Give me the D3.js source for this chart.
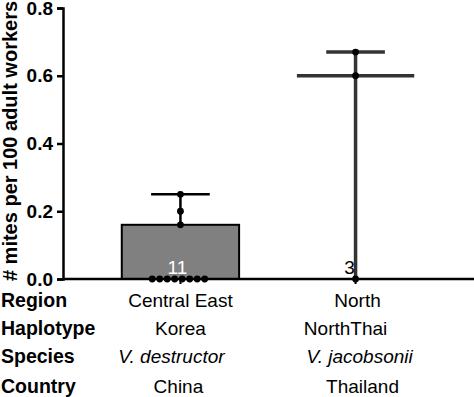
<!DOCTYPE html>
<html>
<head>
<meta charset="utf-8">
<script src="https://cdn.jsdelivr.net/npm/d3@7"></script>
<style>
  body { margin: 0; background: #fff; }
  text { font-family: "Liberation Sans", Arial, sans-serif; }
</style>
</head>
<body>
<div id="chart"></div>
<script>
// data
var regions = ["Central East", "North"];
var haplotypes = ["Korea", "NorthThai"];
var species = ["V. destructor", "V. jacobsonii"];
var countries = ["China", "Thailand"];
var barValues = [0.16, 0.6];
var errorTops = [0.25, 0.67];
var counts = [11, 3];
var pointsCentral = [0.25, 0.2, 0.16, 0, 0, 0, 0, 0, 0, 0, 0];
var pointsNorth = [0.67, 0.6, 0];
var yTicks = [0, 0.2, 0.4, 0.6, 0.8];
var rowLabels = ["Region", "Haplotype", "Species", "Country"];

var svgWidth = 474;
var svgHeight = 397;
var margin = { top: 8, right: 0, bottom: 118, left: 63 };

var svg = d3.select("#chart")
  .append("svg")
  .attr("width", svgWidth)
  .attr("height", svgHeight);

var y = d3.scaleLinear()
  .domain([0, 0.8])
  .range([svgHeight - margin.bottom, margin.top]);

var x = d3.scaleBand()
  .domain(regions)
  .range([92, 444])
  .paddingInner(0.33)
  .paddingOuter(0.17);

var barColors = ["#808080", "#ffffff"];
var lineColors = ["#000000", "#333333"];

// bars
svg.selectAll("rect.bar")
  .data(regions)
  .enter()
  .append("rect")
  .attr("class", "bar")
  .attr("x", d => x(d))
  .attr("width", x.bandwidth())
  .attr("y", (d, i) => y(barValues[i]))
  .attr("height", (d, i) => y(0) - y(barValues[i]))
  .attr("fill", (d, i) => barColors[i])
  .attr("stroke", (d, i) => i == 0 ? "#000" : "none")
  .attr("stroke-width", 2);

// North bar only shows its top line
svg.append("line")
  .attr("x1", x(regions[1]))
  .attr("x2", x(regions[1]) + x.bandwidth())
  .attr("y1", y(barValues[1]))
  .attr("y2", y(barValues[1]))
  .attr("stroke", lineColors[1])
  .attr("stroke-width", 3.5);

// error bars
regions.forEach(function(r, i) {
  var cx = x(r) + x.bandwidth() / 2;
  var capHalf = x.bandwidth() / 4;
  var w = i == 0 ? 2.5 : 3.5;
  svg.append("line")
    .attr("x1", cx).attr("x2", cx)
    .attr("y1", y(i == 0 ? barValues[i] : 0)).attr("y2", y(errorTops[i]))
    .attr("stroke", lineColors[i]).attr("stroke-width", w);
  svg.append("line")
    .attr("x1", cx - capHalf).attr("x2", cx + capHalf)
    .attr("y1", y(errorTops[i])).attr("y2", y(errorTops[i]))
    .attr("stroke", lineColors[i]).attr("stroke-width", w);
});

// axes
var yAxis = d3.axisLeft(y)
  .tickValues(yTicks)
  .tickFormat(d3.format(".1f"))
  .tickSize(6)
  .tickPadding(4);

var yg = svg.append("g")
  .attr("transform", "translate(" + margin.left + ",0)")
  .call(yAxis);
yg.select(".domain").attr("stroke-width", 2.5);
yg.selectAll(".tick line").attr("stroke-width", 2.5);
yg.selectAll(".tick text")
  .style("font-size", "19px")
  .style("font-weight", "bold")
  .attr("fill", "#000");

svg.append("line")
  .attr("x1", margin.left).attr("x2", svgWidth)
  .attr("y1", y(0)).attr("y2", y(0))
  .attr("stroke", "#000").attr("stroke-width", 2.5);

regions.forEach(function(r) {
  var cx = x(r) + x.bandwidth() / 2;
  svg.append("line")
    .attr("x1", cx).attr("x2", cx)
    .attr("y1", y(0)).attr("y2", y(0) + 5)
    .attr("stroke", "#000").attr("stroke-width", 2);
});

// points
function drawPoints(vals, i) {
  var cx = x(regions[i]) + x.bandwidth() / 2;
  var zeros = vals.filter(v => v == 0).length;
  var k = 0;
  vals.forEach(function(v) {
    var px = cx;
    if (v == 0 && zeros > 1) {
      px = cx - 2 + (k - (zeros - 1) / 2) * 7.5;
      k++;
    }
    svg.append("circle")
      .attr("cx", px)
      .attr("cy", y(v))
      .attr("r", 3.4)
      .attr("fill", "#000");
  });
}
drawPoints(pointsCentral, 0);
drawPoints(pointsNorth, 1);

// counts
svg.selectAll("text.count")
  .data(counts)
  .enter()
  .append("text")
  .attr("class", "count")
  .attr("x", (d, i) => x(regions[i]) + x.bandwidth() / 2 - (i == 0 ? 3 : 6))
  .attr("y", y(0) - 5)
  .attr("text-anchor", "middle")
  .style("font-size", "19px")
  .attr("fill", (d, i) => i == 0 ? "#fff" : "#000")
  .text(d => d);

// y title
svg.append("text")
  .attr("transform", "translate(17,141) rotate(-90)")
  .attr("text-anchor", "middle")
  .style("font-size", "20px")
  .style("font-weight", "bold")
  .text("# mites per 100 adult workers");

// table under axis
var rowY = [307, 335, 363, 393];
var rowValues = [regions, haplotypes, species, countries];
var cellShift = [[0, 2], [0, -10], [-9, 4], [-2, 7]];

rowLabels.forEach(function(lab, j) {
  svg.append("text")
    .attr("x", 1)
    .attr("y", rowY[j])
    .style("font-size", "19.5px")
    .style("font-weight", "bold")
    .text(lab);
  rowValues[j].forEach(function(v, i) {
    svg.append("text")
      .attr("x", x(regions[i]) + x.bandwidth() / 2 + cellShift[j][i])
      .attr("y", rowY[j])
      .attr("text-anchor", "middle")
      .style("font-size", "19px")
      .style("font-style", j == 2 ? "italic" : "normal")
      .text(v);
  });
});
</script>
</body>
</html>
